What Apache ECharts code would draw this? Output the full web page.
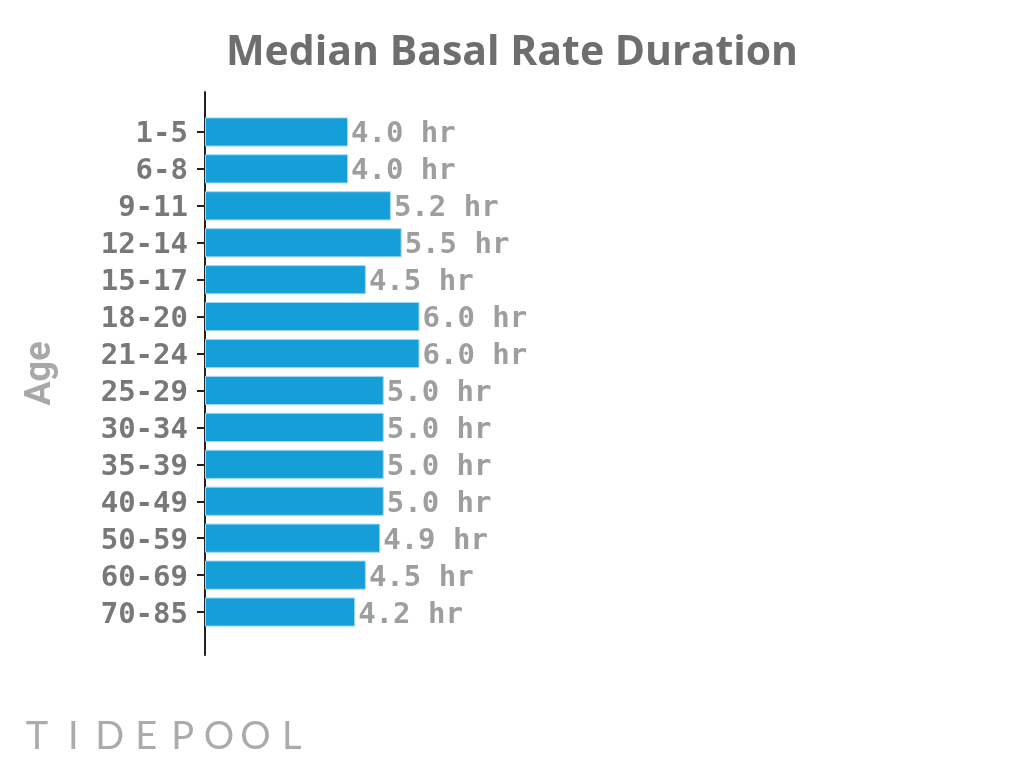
<!DOCTYPE html>
<html lang="en">
<head>
    <meta charset="UTF-8">
    <title>Median Basal Rate Duration</title>
    <script src="https://cdn.jsdelivr.net/npm/echarts@6/dist/echarts.min.js"></script>
    <style>
        html, body { margin: 0; padding: 0; background: #fff; }
    </style>
</head>
<body>
<div id="main" style="width: 1024px;height:782px;"></div>
<script>
    // age groups and their median duration (hours)
    let ages = ['1-5', '6-8', '9-11', '12-14', '15-17', '18-20', '21-24',
        '25-29', '30-34', '35-39', '40-49', '50-59', '60-69', '70-85']
    let hours = [4.0, 4.0, 5.2, 5.5, 4.5, 6.0, 6.0, 5.0, 5.0, 5.0, 5.0, 4.9, 4.5, 4.2]
    let logo = 'TIDEPOOL'

    var myChart = echarts.init(document.getElementById('main'));

    let monoFont = 'DejaVu Sans Mono'

    // logo letters, one per fixed-width slot like the wordmark
    let logoParts = logo.split('').map((ch, i) => ({
        type: 'text',
        x: 37 + i * 36.4,
        y: 718,
        style: {
            text: ch,
            align: 'center',
            verticalAlign: 'top',
            font: '400 38px Lato',
            fill: '#ababab'
        }
    }))

    option = {
        backgroundColor: '#fff',
        title: {
            text: 'Median Basal Rate Duration',
            left: 'center',
            top: 28,
            textStyle: {
                fontFamily: 'Open Sans',
                fontWeight: 'bold',
                fontSize: 41,
                color: '#6e6e6e'
            }
        },
        grid: [
            {left: 205, top: 113.5, height: 517, width: 715},
            {left: 205, top: 92, height: 563, width: 715}
        ],
        xAxis: [
            {gridIndex: 0, type: 'value', min: 0, max: 20, show: false},
            {gridIndex: 1, type: 'value', min: 0, max: 20, show: false}
        ],
        yAxis: [
            {
                gridIndex: 0,
                type: 'category',
                data: ages,
                inverse: true,
                axisLine: {show: false},
                axisTick: {show: true, alignWithLabel: true, interval: 0, length: 8, lineStyle: {color: '#222', width: 2}},
                axisLabel: {
                    interval: 0,
                    margin: 17,
                    // spacer token nudges the text a little below the tick
                    formatter: v => '{a|' + v + '}{s|}',
                    rich: {
                        a: {
                            fontFamily: monoFont,
                            fontWeight: 'bold',
                            fontSize: 29,
                            color: '#787878',
                            lineHeight: 29,
                            verticalAlign: 'bottom'
                        },
                        s: {lineHeight: 35}
                    }
                },
                splitLine: {show: false}
            },
            {
                // long plain axis line plus the "Age" name
                gridIndex: 1,
                type: 'value',
                min: 0,
                max: 1,
                axisLine: {show: true, lineStyle: {color: '#222', width: 2}},
                axisTick: {show: false},
                axisLabel: {show: false},
                splitLine: {show: false},
                name: 'Age',
                nameLocation: 'middle',
                nameRotate: 90,
                nameGap: 146,
                nameTextStyle: {
                    fontFamily: 'Roboto',
                    fontWeight: 'bold',
                    fontSize: 36,
                    color: '#a8a8a8'
                }
            }
        ],
        series: [{
            type: 'bar',
            xAxisIndex: 0,
            yAxisIndex: 0,
            data: hours,
            barCategoryGap: '21%',
            itemStyle: {
                color: '#149fd9',
                borderColor: '#9fd8f2',
                borderWidth: 1
            },
            label: {
                show: true,
                position: 'right',
                distance: 3,
                offset: [0, 3],
                fontFamily: monoFont,
                fontWeight: 'bold',
                fontSize: 29,
                color: '#9e9e9e',
                formatter: function (p) {
                    return p.value.toFixed(1) + ' hr'
                }
            }
        }],
        graphic: logoParts
    };

    myChart.setOption(option);
</script>
</body>
</html>
